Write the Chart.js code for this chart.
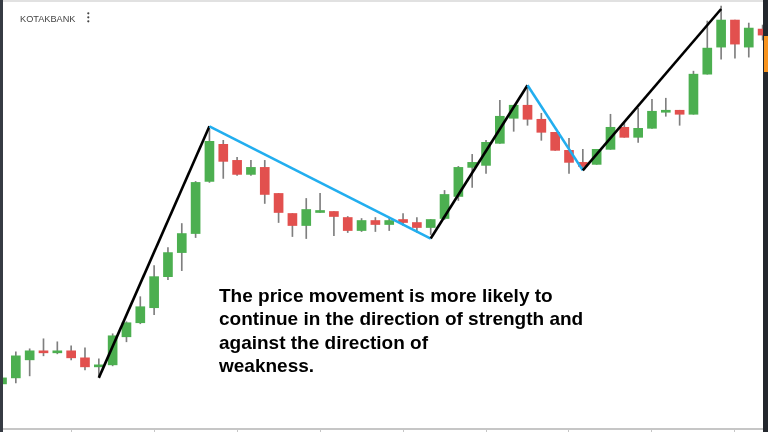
<!DOCTYPE html>
<html>
<head>
<meta charset="utf-8">
<script src="https://cdn.jsdelivr.net/npm/chart.js@4.4.1/dist/chart.umd.min.js"></script>
<style>
  html, body { margin: 0; padding: 0; background: #fff; }
  #wrap { position: relative; width: 768px; height: 432px; overflow: hidden; }
  #chart { position: absolute; left: 0; top: 0; }
  .edge-top { position: absolute; left: 0; top: 0; width: 768px; height: 2px; background: #e1e1e1; }
  .edge-left { position: absolute; left: 0; top: 0; width: 3px; height: 432px; background: #363b43; }
  .edge-right { position: absolute; right: 0; top: 0; width: 5px; height: 432px; background: #23272d; }
  .edge-tag { position: absolute; right: 0; top: 36px; width: 4px; height: 36px; background: #f7931e; }
</style>
</head>
<body>
<div id="wrap">
  <canvas id="chart" width="768" height="432"></canvas>
  <div class="edge-top"></div>
  <div class="edge-left"></div>
  <div class="edge-right"></div>
  <div class="edge-tag"></div>
</div>
<script>
// OHLC, one entry per session
var opens  = [1617, 1623, 1641, 1650, 1648, 1650, 1643, 1634, 1636, 1664, 1678, 1693, 1724, 1748, 1767, 1819,
              1856, 1840, 1826, 1833, 1807, 1787, 1775, 1788, 1789, 1783, 1770, 1780, 1776, 1781, 1778, 1773,
              1782, 1804, 1833, 1835, 1857, 1882, 1895, 1881, 1868, 1850, 1838, 1836, 1851, 1873, 1863, 1872,
              1888, 1890, 1886, 1926, 1953, 1980, 1953, 1971];
var highs  = [1624, 1649, 1652, 1662, 1659, 1655, 1653, 1642, 1667, 1679, 1704, 1735, 1753, 1777, 1819, 1871,
              1860, 1843, 1840, 1840, 1807, 1787, 1802, 1807, 1789, 1784, 1782, 1783, 1783, 1787, 1783, 1781,
              1810, 1834, 1846, 1860, 1900, 1895, 1913, 1887, 1868, 1862, 1851, 1851, 1886, 1877, 1892, 1901,
              1902, 1890, 1929, 1979, 1994, 1980, 1977, 1975];
var lows   = [1615, 1618, 1625, 1645, 1647, 1641, 1631, 1625, 1635, 1659, 1677, 1686, 1721, 1730, 1763, 1818,
              1822, 1825, 1825, 1797, 1778, 1764, 1762, 1788, 1765, 1768, 1769, 1769, 1770, 1775, 1768, 1766,
              1781, 1800, 1813, 1827, 1857, 1869, 1875, 1860, 1850, 1827, 1832, 1836, 1851, 1863, 1858, 1872,
              1884, 1875, 1886, 1926, 1941, 1942, 1943, 1960];
var closes = [1623, 1645, 1650, 1648, 1650, 1643, 1634, 1636, 1665, 1678, 1694, 1724, 1748, 1767, 1818, 1859,
              1839, 1826, 1833, 1806, 1788, 1775, 1791, 1790, 1784, 1770, 1780, 1776, 1780, 1778, 1773, 1781,
              1806, 1833, 1838, 1858, 1884, 1895, 1881, 1868, 1850, 1838, 1834, 1851, 1873, 1863, 1872, 1889,
              1890, 1886, 1926, 1952, 1980, 1956, 1972, 1965];

// swing points joined by the trend lines (session index, price)
var swingIdx   = [7, 15, 31, 38, 42, 52];
var swingPrice = [1623, 1874, 1762, 1915, 1830, 1991];

// sessions that carry a time-axis tick
var timeTicks = [5, 11, 17, 23, 29, 35, 41, 47, 53];

var noteLines = [
    'The price movement is more likely to',
    'continue in the direction of strength and',
    'against the direction of',
    'weakness.'
];

var UP = '#4caf50';
var DOWN = '#e2504e';
var WICK = '#7f7f7f';

var bodyColors = opens.map(function (o, i) { return closes[i] >= o ? UP : DOWN; });
var wicks = opens.map(function (o, i) { return { x: i, y: [lows[i], highs[i]] }; });
var bodies = opens.map(function (o, i) { return { x: i, y: [o, closes[i]] }; });
var swings = swingIdx.map(function (x, i) { return { x: x, y: swingPrice[i] }; });

// title, menu dots and the note
var overlay = {
    id: 'overlay',
    afterDraw: function (chart) {
        var ctx = chart.ctx;
        ctx.save();
        ctx.fillStyle = '#444';
        ctx.font = '9.2px "Liberation Sans", Arial, sans-serif';
        ctx.fillText('KOTAKBANK', 20, 21.5);
        [13.3, 17.3, 21.3].forEach(function (y) {
            ctx.beginPath();
            ctx.arc(88.3, y, 1.1, 0, Math.PI * 2);
            ctx.fill();
        });
        ctx.fillStyle = '#000';
        ctx.font = 'bold 19px "Liberation Sans", Arial, sans-serif';
        noteLines.forEach(function (t, i) {
            ctx.fillText(t, 219, 302 + i * 23.3);
        });
        ctx.restore();
    }
};

var ctx = document.getElementById('chart').getContext('2d');
var chart = new Chart(ctx, {
    type: 'bar',
    data: {
        datasets: [{
            type: 'line',
            data: swings,
            borderColor: '#000',
            borderWidth: 2.6,
            pointRadius: 0,
            tension: 0,
            fill: false,
            order: 0,
            segment: {
                borderColor: function (c) { return c.p0DataIndex % 2 ? '#22aeef' : '#000'; }
            }
        }, {
            data: bodies,
            backgroundColor: bodyColors,
            barThickness: 9,
            grouped: false,
            order: 1
        }, {
            data: wicks,
            backgroundColor: WICK,
            barThickness: 1,
            grouped: false,
            order: 2
        }]
    },
    options: {
        responsive: false,
        animation: false,
        layout: { padding: 0 },
        plugins: {
            legend: { display: false },
            tooltip: { enabled: false },
            title: { display: false }
        },
        scales: {
            x: {
                type: 'linear',
                offset: false,
                min: -0.145,
                max: 55.39,
                afterBuildTicks: function (scale) {
                    scale.ticks = timeTicks.map(function (v) { return { value: v }; });
                },
                ticks: { display: false },
                grid: { drawOnChartArea: false, offset: false, color: '#c6c6c6', tickLength: 3 },
                border: { color: '#c6c6c6', width: 2 }
            },
            y: {
                display: false,
                min: 1572,
                max: 2000
            }
        }
    },
    plugins: [overlay]
});
</script>
</body>
</html>
